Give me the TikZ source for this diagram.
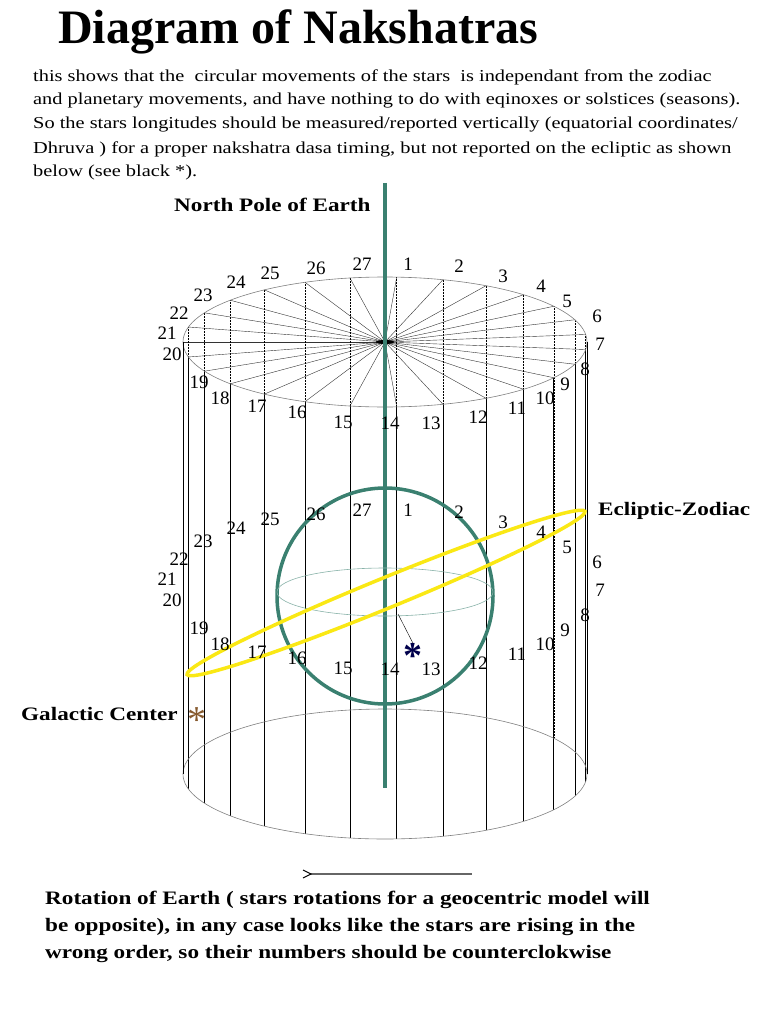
\documentclass[tikz,border=0pt]{standalone}
\usepackage{fontspec}
\setmainfont{Liberation Serif}
\newfontfamily\wide[FakeStretch=1.22]{Liberation Serif}
\begin{document}
\begin{tikzpicture}[x=1pt,y=-1pt,
  num/.style={font=\fontsize{19}{19}\selectfont,inner sep=0pt},
  body/.style={font=\wide\fontsize{16.7}{20}\selectfont,anchor=west,inner sep=0pt},
  bold/.style={font=\wide\bfseries\fontsize{19}{22}\selectfont,anchor=west,inner sep=0pt},
  rim/.style={gray,line width=0.6pt}]
\definecolor{teal2}{RGB}{58,128,112}
\definecolor{yel}{RGB}{250,232,20}
\useasboundingbox[fill=white] (0,0) rectangle (768,1024);
\node[anchor=west,inner sep=0pt,font=\bfseries\fontsize{48}{48}\selectfont] (title) at (58,32) {Diagram of Nakshatras};
\node[body] (l1) at (33,77) {this shows that the\ \ circular movements of the stars\ \ is independant from the zodiac};
\node[body] (l2) at (33,101) {and planetary movements, and have nothing to do with eqinoxes or solstices (seasons).};
\node[body] (l3) at (33,125) {So the stars longitudes should be measured/reported vertically (equatorial coordinates/};
\node[body] (l4) at (33,149) {Dhruva ) for a proper nakshatra dasa timing, but not reported on the ecliptic as shown};
\node[body] (l5) at (33,172) {below (see black *).};
% cylinder
\coordinate (c) at (385,342);
\foreach \k in {0,...,26}{
  \pgfmathsetmacro{\ph}{6.6667+13.3333*\k}
  \pgfmathsetmacro{\xx}{385+202*cos(\ph)}
  \pgfmathsetmacro{\yt}{342+65*sin(\ph)}
  \pgfmathsetmacro{\yb}{774+65*sin(\ph)}
  \coordinate (t\k) at (\xx,\yt);
  \coordinate (b\k) at (\xx,\yb);
  \draw[line width=0.4pt,black!80] (c) -- (t\k);
  \pgfmathparse{sin(\ph)>0.001?1:0}
  \ifnum\pgfmathresult=1
    \draw[line width=0.6pt] (t\k) -- (b\k);
  \else
    \draw[line width=0.5pt,densely dotted] (t\k) -- (b\k);
  \fi
}
\draw[rim] (c) ellipse [x radius=202pt,y radius=65pt];
\draw[rim] (385,774) ellipse [x radius=202pt,y radius=65pt];
\coordinate (lt) at (183,342); \coordinate (lb) at (183,774);
\coordinate (rt) at (587,342); \coordinate (rb) at (587,774);
\draw[line width=0.6pt] (lt) -- (lb);
\draw[line width=0.6pt] (rt) -- (rb);
\fill[black] (c) ellipse [x radius=9pt,y radius=2pt];
% pole
\coordinate (np) at (385,183); \coordinate (sp) at (385,788);
\draw[teal2,line width=4.5pt] (np) -- (sp);
% globe
\draw[teal2,line width=3.5pt] (385,596) circle [radius=108pt];
\draw[teal2!60,line width=0.6pt] (385,592) ellipse [x radius=108pt,y radius=24pt];
\begin{scope}[shift={(386,593)},rotate=22.3]
\draw[yel,line width=3.5pt] (0,0) ellipse [x radius=215pt,y radius=15pt];
\end{scope}
% labels
\def\labs{27/362/264,1/408/264,2/459/266,3/503/276,4/541/286,5/567/301,6/597/316,7/600/344,8/585/369,9/565/384,10/545/398,11/517/408,12/478/417,13/431/423,14/390/423,15/343/422,16/297/412,17/257/406,18/220/398,19/199/382,20/172/354,21/167/333,22/179/313,23/203/295,24/236/282,25/270/273,26/316/268}
\foreach \n/\a/\b in \labs {\node[num] (u\n) at (\a,\b) {\n};}
\foreach \n/\a/\b in \labs {\node[num] (m\n) at (\a,\b+246) {\n};}
% stars
\node[inner sep=0pt,text=black!70!blue,font=\bfseries\fontsize{38}{38}\selectfont] (st) at (413,656) {*};
\coordinate (sa) at (398,614);
\draw[line width=0.4pt] (sa) -- (st.north);
\node[inner sep=0pt,text=brown!70!black,font=\fontsize{38}{38}\selectfont] (gc) at (197,720) {*};
\node[bold] (gcl) at (21,714) {Galactic Center};
\node[bold] (npl) at (174,205) {North Pole of Earth};
\node[bold] (ecl) at (598,511) {Ecliptic-Zodiac};
% rotation arrow
\coordinate (a1) at (310,874); \coordinate (a2) at (472,874);
\draw[gray!80!black,line width=1.2pt] (a1) -- (a2);
\draw[line width=1pt] (303,870) -- (311,874) -- (303,878);
\node[bold] (r1) at (45,900) {Rotation of Earth ( stars rotations for a geocentric model will};
\node[bold] (r2) at (45,927) {be opposite), in any case looks like the stars are rising in the};
\node[bold] (r3) at (45,954) {wrong order, so their numbers should be counterclokwise};
\end{tikzpicture}
\end{document}
